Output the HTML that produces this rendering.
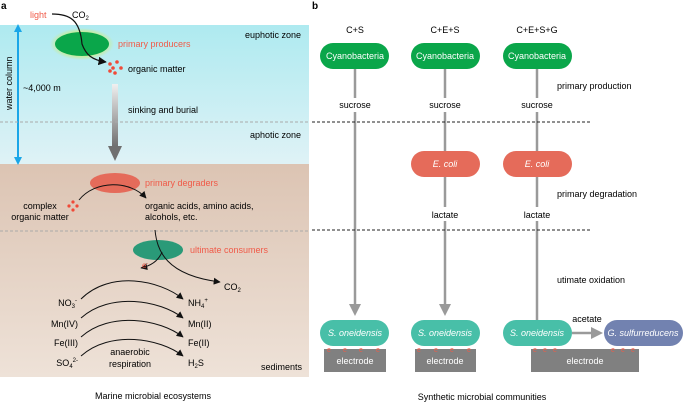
<!DOCTYPE html>
<html><head><meta charset="utf-8"><style>
html,body{margin:0;padding:0;background:#fff;}
svg{display:block;font-family:"Liberation Sans",Arial,sans-serif;}
</style></head><body>
<svg width="685" height="404" viewBox="0 0 685 404" xmlns="http://www.w3.org/2000/svg">
<defs>
<linearGradient id="sky" x1="0" y1="0" x2="0" y2="1"><stop offset="0" stop-color="#aeeaf0"/><stop offset="1" stop-color="#dff2f6"/></linearGradient>
<linearGradient id="sed" x1="0" y1="0" x2="0" y2="1"><stop offset="0" stop-color="#dcc4b3"/><stop offset="1" stop-color="#eee2d8"/></linearGradient>
<linearGradient id="sink" x1="0" y1="0" x2="0" y2="1"><stop offset="0" stop-color="#f0f0f0"/><stop offset="1" stop-color="#6d6d6d"/></linearGradient>
<radialGradient id="glow"><stop offset="0.75" stop-color="#c8ec9a"/><stop offset="1" stop-color="#c8ec9a" stop-opacity="0"/></radialGradient>
<marker id="ah" viewBox="0 0 10 10" refX="9" refY="5" markerWidth="7" markerHeight="7" orient="auto"><path d="M0,0 L10,5 L0,10 z" fill="#111"/></marker>
<marker id="bh" viewBox="0 0 10 10" refX="5" refY="5" markerWidth="4" markerHeight="4" orient="auto-start-reverse"><path d="M0,0 L10,5 L0,10 z" fill="#1aa6e8"/></marker>
</defs>
<rect x="0" y="25" width="309" height="139" fill="url(#sky)"/>
<rect x="0" y="164" width="309" height="213" fill="url(#sed)"/>
<text x="1" y="9" font-size="10" font-weight="bold">a</text>
<text x="312" y="9" font-size="10" font-weight="bold">b</text>
<!-- panel a -->
<text x="30" y="18" font-size="9" fill="#f05a48">light</text>
<text x="72" y="18" font-size="9">CO<tspan font-size="6" dy="2">2</tspan></text>
<ellipse cx="82" cy="44" rx="32" ry="16" fill="url(#glow)"/>
<ellipse cx="82" cy="44" rx="27" ry="12" fill="#0aa64a"/>
<path d="M52,14 C70,14 80,20 82,44 C86,55 92,60 106,62" fill="none" stroke="#111" stroke-width="1.2" marker-end="url(#ah)"/>
<text x="118" y="47" font-size="9" fill="#f05a48">primary producers</text>
<g fill="#f04a38"><circle cx="110" cy="64" r="1.8"/><circle cx="117" cy="62" r="1.8"/><circle cx="113" cy="68" r="1.8"/><circle cx="121" cy="68" r="1.8"/><circle cx="110" cy="71" r="1.8"/><circle cx="115" cy="73" r="1.8"/></g>
<text x="128" y="72" font-size="9">organic matter</text>
<text x="245" y="38" font-size="9">euphotic zone</text>
<text x="250" y="138" font-size="9">aphotic zone</text>
<text x="261" y="370" font-size="9">sediments</text>
<line x1="18" y1="28" x2="18" y2="161" stroke="#1aa6e8" stroke-width="2" marker-start="url(#bh)" marker-end="url(#bh)"/>
<text transform="translate(12,110) rotate(-90)" font-size="9">water column</text>
<text x="23" y="91" font-size="9">~4,000 m</text>
<rect x="112" y="84" width="6" height="64" fill="url(#sink)"/>
<path d="M108,146 L122,146 L115,161 z" fill="#707070"/>
<text x="128" y="113" font-size="9">sinking and burial</text>
<line x1="0" y1="122" x2="309" y2="122" stroke="#aaa" stroke-width="1" stroke-dasharray="3,2"/>
<ellipse cx="115" cy="183" rx="25" ry="10" fill="#e56b5a"/>
<text x="145" y="186" font-size="9" fill="#f05a48">primary degraders</text>
<path d="M79,200 C95,180 130,180 146,198" fill="none" stroke="#111" stroke-width="1" marker-end="url(#ah)"/>
<g fill="#f04a38"><circle cx="73" cy="202" r="1.6"/><circle cx="69" cy="206" r="1.6"/><circle cx="77" cy="206" r="1.6"/><circle cx="73" cy="210" r="1.6"/></g>
<text x="40" y="209" font-size="9" text-anchor="middle">complex</text>
<text x="40" y="220" font-size="9" text-anchor="middle">organic matter</text>
<text x="145" y="209" font-size="9">organic acids, amino acids,</text>
<text x="145" y="220" font-size="9">alcohols, etc.</text>
<line x1="0" y1="231" x2="309" y2="231" stroke="#aaa" stroke-width="1" stroke-dasharray="3,2"/>
<ellipse cx="158" cy="250" rx="25" ry="10" fill="#2a9a78"/>
<text x="190" y="253" font-size="9" fill="#f05a48">ultimate consumers</text>
<path d="M155,230 C157,250 165,275 220,282" fill="none" stroke="#111" stroke-width="1" marker-end="url(#ah)"/>
<path d="M162,252 C158,262 150,266 141,268" fill="none" stroke="#111" stroke-width="1" marker-end="url(#ah)"/>
<text x="142" y="268" font-size="8" fill="#f05a48">e<tspan font-size="5" dy="-3">-</tspan></text>
<text x="224" y="290" font-size="9">CO<tspan font-size="6" dy="2">2</tspan></text>
<g fill="none" stroke="#111" stroke-width="1">
<path d="M81,299 C110,270 160,280 183,299" marker-end="url(#ah)"/>
<path d="M81,318 C110,292 160,300 183,318" marker-end="url(#ah)"/>
<path d="M81,337 C110,311 160,319 183,337" marker-end="url(#ah)"/>
<path d="M81,356 C110,330 160,338 183,356" marker-end="url(#ah)"/>
</g>
<g font-size="9" text-anchor="end">
<text x="77" y="306">NO<tspan font-size="6" dy="2">3</tspan><tspan font-size="6" dy="-6">-</tspan></text>
<text x="78" y="327">Mn(IV)</text>
<text x="78" y="346">Fe(III)</text>
<text x="78" y="366">SO<tspan font-size="6" dy="2">4</tspan><tspan font-size="6" dy="-6">2-</tspan></text>
</g>
<g font-size="9">
<text x="188" y="306">NH<tspan font-size="6" dy="2">4</tspan><tspan font-size="6" dy="-6">+</tspan></text>
<text x="188" y="327">Mn(II)</text>
<text x="188" y="346">Fe(II)</text>
<text x="188" y="366">H<tspan font-size="6" dy="2">2</tspan><tspan dy="-2">S</tspan></text>
</g>
<text x="130" y="355" font-size="9" text-anchor="middle">anaerobic</text>
<text x="130" y="367" font-size="9" text-anchor="middle">respiration</text>
<text x="153" y="399" font-size="9" text-anchor="middle">Marine microbial ecosystems</text>
<!-- panel b -->
<g font-size="9" text-anchor="middle">
<text x="355" y="33">C+S</text><text x="445" y="33">C+E+S</text><text x="537" y="33">C+E+S+G</text>
</g>
<g stroke="#9a9a9a" stroke-width="2.5">
<line x1="355" y1="69" x2="355" y2="98"/><line x1="355" y1="112" x2="355" y2="305"/>
<line x1="445" y1="69" x2="445" y2="98"/><line x1="445" y1="112" x2="445" y2="151"/>
<line x1="445" y1="177" x2="445" y2="207"/><line x1="445" y1="221" x2="445" y2="305"/>
<line x1="537" y1="69" x2="537" y2="98"/><line x1="537" y1="112" x2="537" y2="151"/>
<line x1="537" y1="177" x2="537" y2="207"/><line x1="537" y1="221" x2="537" y2="320"/>
<line x1="572" y1="333" x2="592" y2="333"/>
</g>
<g fill="#9a9a9a"><path d="M349,304 L361,304 L355,316 z"/><path d="M439,304 L451,304 L445,316 z"/><path d="M591,327 L603,333 L591,339 z"/></g>
<g font-size="9" text-anchor="middle">
<text x="355" y="108">sucrose</text><text x="445" y="108">sucrose</text><text x="537" y="108">sucrose</text>
<text x="445" y="218">lactate</text><text x="537" y="218">lactate</text>
<text x="587" y="322">acetate</text>
</g>
<g font-size="9"><text x="557" y="89">primary production</text><text x="557" y="197">primary degradation</text><text x="557" y="283">utimate oxidation</text></g>
<g stroke="#222" stroke-width="1" stroke-dasharray="3,2"><line x1="312" y1="122" x2="592" y2="122"/><line x1="312" y1="230" x2="592" y2="230"/></g>
<g fill="#0aa64a"><rect x="320" y="43" width="69" height="26" rx="13"/><rect x="411" y="43" width="69" height="26" rx="13"/><rect x="503" y="43" width="69" height="26" rx="13"/></g>
<g fill="#e56b5a"><rect x="411" y="151" width="69" height="26" rx="13"/><rect x="503" y="151" width="69" height="26" rx="13"/></g>
<g fill="#808080"><rect x="324" y="349" width="62" height="23"/><rect x="415" y="349" width="61" height="23"/><rect x="531" y="349" width="108" height="23"/></g>
<g fill="#48bfa8"><rect x="320" y="320" width="69" height="26" rx="13"/><rect x="411" y="320" width="69" height="26" rx="13"/><rect x="503" y="320" width="69" height="26" rx="13"/></g>
<rect x="604" y="320" width="79" height="26" rx="13" fill="#7282b0"/>
<g font-size="9" fill="#fff" text-anchor="middle">
<text x="355" y="59">Cyanobacteria</text><text x="445" y="59">Cyanobacteria</text><text x="537" y="59">Cyanobacteria</text>
<text x="445" y="167" font-style="italic">E. coli</text><text x="537" y="167" font-style="italic">E. coli</text>
<text x="355" y="336" font-style="italic">S. oneidensis</text><text x="445" y="336" font-style="italic">S. oneidensis</text><text x="537" y="336" font-style="italic">S. oneidensis</text>
<text x="643" y="336" font-style="italic">G. sulfurreducens</text>
<text x="355" y="364">electrode</text><text x="445" y="364">electrode</text><text x="585" y="364">electrode</text>
</g>
<g font-size="7" fill="#f05a48">
<text x="327" y="352">e</text><text x="343" y="352">e</text><text x="359" y="352">e</text><text x="376" y="352">e</text>
<text x="417" y="352">e</text><text x="434" y="352">e</text><text x="450" y="352">e</text><text x="467" y="352">e</text>
<text x="533" y="352">e</text><text x="543" y="352">e</text><text x="553" y="352">e</text>
<text x="611" y="352">e</text><text x="621" y="352">e</text><text x="631" y="352">e</text>
</g>
<text x="482" y="400" font-size="9" text-anchor="middle">Synthetic microbial communities</text>
</svg>
</body></html>
